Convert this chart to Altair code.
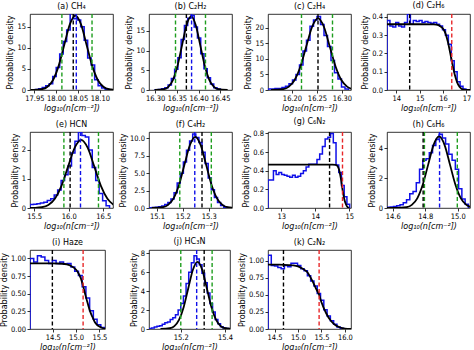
import altair as alt
import pandas as pd

# ---------------- data ----------------
TITLES = ["(a)  CH₄", "(b)  C₂H₂", "(c)  C₂H₄", "(d)  C₂H₆", "(e)  HCN", "(f)  C₄H₂",
          "(g)  C₆N₂", "(h)  C₆H₆", "(i)  Haze", "(j)  HC₃N", "(k)  C₂N₂"]
X_LABEL = "log₁₀(n[cm⁻²])"
Y_LABEL = "Probability density"
LINE_KINDS = ["bound", "best", "mean", "limit"]

# (a) CH4
A_START, A_BINW = 17.952, 0.008
A_HIST = [0.1, 0.3, 0.6, 1.0, 1.5, 3.2, 5.3, 8.5, 11.5, 14.2, 18.4, 16.9, 16.6, 15.0, 11.8, 7.6, 5.9, 2.4, 1.0, 0.5, 0.2]
A_CX = [17.9416, 17.9672, 17.98, 17.9928, 18.0056, 18.0184, 18.0312, 18.044, 18.0568, 18.0696, 18.0824, 18.0952, 18.108, 18.1208, 18.1464]
A_CY = [0.006, 0.195, 0.77, 2.38, 5.71, 10.67, 15.53, 17.6, 15.53, 10.67, 5.71, 2.38, 0.77, 0.195, 0.006]
A_LX = [18.013, 18.082, 18.039, 18.046]
A_LK = ["bound", "bound", "best", "mean"]
A_XT = [17.95, 18.00, 18.05, 18.10]
A_YT = [0, 5, 10, 15]

# (b) C2H2
B_START, B_BINW = 16.30, 0.0075
B_HIST = [0.05, 0.15, 0.3, 0.6, 1.3, 2.9, 5.3, 8.2, 12.8, 16.4, 18.2, 18.9, 16.0, 13.2, 9.2, 5.4, 3.1, 1.5, 0.6, 0.25, 0.08]
B_CX = [16.299, 16.32, 16.3305, 16.341, 16.3515, 16.362, 16.3725, 16.383, 16.3935, 16.404, 16.4145, 16.425, 16.4355, 16.446, 16.467]
B_CY = [0.0056, 0.2076, 0.821, 2.53, 6.07, 11.34, 16.50, 18.7, 16.50, 11.34, 6.07, 2.53, 0.821, 0.2076, 0.0056]
B_LX = [16.347, 16.416, 16.372, 16.384]
B_LK = ["bound", "bound", "best", "mean"]
B_XT = [16.30, 16.35, 16.40, 16.45]
B_YT = [0, 5, 10, 15]

# (c) C2H4
C_START, C_BINW = 16.152, 0.007
C_HIST = [0.3, 0.35, 0.5, 0.5, 0.8, 1.2, 2.0, 3.2, 5.0, 8.0, 12.5, 16.0, 20.5, 22.5, 23.6, 21.0, 17.5, 14.0, 9.5, 5.5, 3.5, 1.0, 0.3]
C_CX = [16.158, 16.1815, 16.1933, 16.205, 16.2168, 16.2285, 16.2403, 16.252, 16.2638, 16.2755, 16.2873, 16.299, 16.3108, 16.3225]
C_CY = [0.008, 0.255, 1.01, 3.11, 7.47, 13.95, 20.3, 23.0, 20.3, 13.95, 7.47, 3.11, 1.01, 0.255]
C_LX = [16.219, 16.281, 16.252]
C_LK = ["bound", "bound", "best"]
C_XT = [16.20, 16.25, 16.30]
C_YT = [0, 5, 10, 15, 20]

# (d) C2H6
D_START, D_BINW = 13.6, 0.125
D_HIST = [0.38, 0.35, 0.345, 0.37, 0.35, 0.345, 0.37, 0.415, 0.36, 0.38, 0.375, 0.38, 0.37, 0.375,
          0.37, 0.365, 0.37, 0.36, 0.35, 0.33, 0.30, 0.25, 0.16, 0.10, 0.045, 0.02, 0.005]
D_CX = [13.6, 15.0, 15.6, 15.8, 15.9, 16.0, 16.1, 16.2, 16.3, 16.4, 16.5, 16.6, 16.7, 16.8, 16.9, 17.0, 17.15]
D_CY = [0.36, 0.36, 0.359, 0.355, 0.347, 0.335, 0.31, 0.265, 0.205, 0.14, 0.083, 0.042, 0.018, 0.006, 0.002, 0.0005, 0.0]
D_LX = [14.57, 16.37]
D_LK = ["best", "limit"]
D_XT = [14, 15, 16, 17]
D_YT = [0.0, 0.1, 0.2, 0.3, 0.4]

# (e) HCN
E_START, E_BINW = 15.44, 0.05
E_HIST = [0.12, 0.13, 0.15, 0.17, 0.2, 0.26, 0.32, 0.45, 0.62, 0.95, 1.15, 1.45, 1.9, 2.3, 2.62, 2.5,
          2.45, 2.0, 1.4, 0.95, 0.5, 0.25, 0.08]
E_CX = [15.44, 15.515, 15.61, 15.705, 15.80, 15.895, 15.99, 16.085, 16.18, 16.275, 16.37, 16.465, 16.56, 16.655]
E_CY = [0.0015, 0.005, 0.026, 0.103, 0.318, 0.763, 1.425, 2.074, 2.35, 2.074, 1.425, 0.763, 0.318, 0.103]
E_LX = [15.93, 16.43, 16.02, 16.17]
E_LK = ["bound", "bound", "best", "mean"]
E_XT = [15.5, 16.0, 16.5]
E_YT = [0, 1, 2]

# (f) C4H2
F_START, F_BINW = 15.07, 0.012
F_HIST = [0.05, 0.08, 0.12, 0.18, 0.3, 0.5, 0.8, 1.3, 2.2, 3.6, 5.0, 6.6, 8.3, 9.6, 10.6, 10.1, 9.4,
          8.0, 6.4, 4.3, 2.6, 1.5, 0.8, 0.35, 0.12, 0.04]
F_CX = [15.08, 15.122, 15.143, 15.164, 15.185, 15.206, 15.227, 15.248, 15.269, 15.29, 15.311, 15.332, 15.353, 15.374, 15.416]
F_CY = [0.003, 0.113, 0.448, 1.38, 3.31, 6.19, 9.0, 10.2, 9.0, 6.19, 3.31, 1.38, 0.448, 0.113, 0.003]
F_LX = [15.188, 15.31, 15.274, 15.246]
F_LK = ["bound", "bound", "best", "mean"]
F_XT = [15.1, 15.2, 15.3]
F_YT = [0.0, 2.5, 5.0, 7.5, 10.0]

# (g) C6N2
G_START, G_BINW = 12.61, 0.08
G_HIST = [0.30, 0.30, 0.40, 0.36, 0.38, 0.36, 0.35, 0.34, 0.33, 0.35, 0.33, 0.34, 0.37, 0.40, 0.44,
          0.47, 0.47, 0.47, 0.52, 0.58, 0.66, 0.74, 0.76, 0.80, 0.70, 0.46, 0.38, 0.24, 0.12, 0.04]
G_CX = [12.61, 14.5, 14.6, 14.65, 14.7, 14.75, 14.8, 14.85, 14.9, 14.95, 15.0]
G_CY = [0.465, 0.465, 0.462, 0.45, 0.41, 0.32, 0.2, 0.1, 0.04, 0.01, 0.0]
G_LX = [14.42, 14.8]
G_LK = ["best", "limit"]
G_XT = [13, 14, 15]
G_YT = [0.0, 0.2, 0.4, 0.6, 0.8]

# (h) C6H6
H_START, H_BINW = 14.565, 0.02
H_HIST = [0.05, 0.07, 0.10, 0.15, 0.22, 0.35, 0.55, 0.95, 1.10, 1.70, 2.60, 3.20, 3.30, 3.70, 4.20,
          4.60, 4.95, 4.70, 4.30, 3.60, 3.20, 2.60, 1.30, 0.60, 0.25]
H_CX = [14.565, 14.617, 14.684, 14.7175, 14.751, 14.7845, 14.818, 14.8515, 14.885, 14.9185, 14.952, 14.9855, 15.019, 15.0525, 15.086]
H_CY = [0.0003, 0.0016, 0.053, 0.211, 0.65, 1.56, 2.91, 4.24, 4.8, 4.24, 2.91, 1.56, 0.65, 0.211, 0.053]
H_LX = [14.795, 14.997, 14.787, 14.888]
H_LK = ["bound", "bound", "best", "mean"]
H_XT = [14.6, 14.8, 15.0]
H_YT = [0, 2, 4]

# (i) Haze
I_START, I_BINW = 14.01, 0.08
I_HIST = [1.00, 0.95, 1.04, 1.02, 0.97, 0.93, 0.97, 0.93, 0.95, 0.92, 0.93, 0.88, 0.82, 0.76, 0.60,
          0.44, 0.26, 0.14, 0.06, 0.02]
I_CX = [14.01, 14.5, 14.7, 14.8, 14.9, 15.0, 15.05, 15.1, 15.15, 15.2, 15.25, 15.3, 15.35, 15.4, 15.45, 15.5, 15.55, 15.62]
I_CY = [0.93, 0.93, 0.925, 0.915, 0.89, 0.84, 0.79, 0.72, 0.61, 0.48, 0.36, 0.25, 0.17, 0.10, 0.06, 0.035, 0.018, 0.006]
I_LX = [14.49, 15.15]
I_LK = ["best", "limit"]
I_XT = [14.5, 15.0, 15.5]
I_YT = [0.0, 0.25, 0.5, 0.75, 1.0]

# (j) HC3N
J_START, J_BINW = 15.056, 0.012
J_HIST = [0.05, 0.10, 0.20, 0.28, 0.35, 0.50, 0.65, 0.75, 1.00, 1.20, 1.50, 2.00, 2.70, 3.50, 4.80,
          6.00, 7.00, 7.75, 7.40, 6.80, 5.90, 4.90, 3.80, 2.70, 1.80, 1.00, 0.55, 0.25, 0.10, 0.04]
J_CX = [15.108, 15.15, 15.171, 15.192, 15.213, 15.234, 15.255, 15.276, 15.297, 15.318, 15.339, 15.36, 15.381, 15.402, 15.444]
J_CY = [0.002, 0.079, 0.312, 0.961, 2.305, 4.306, 6.266, 7.1, 6.266, 4.306, 2.305, 0.961, 0.312, 0.079, 0.002]
J_LX = [15.2, 15.342, 15.306, 15.272]
J_LK = ["bound", "bound", "best", "mean"]
J_XT = [15.2, 15.4]
J_YT = [0, 2, 4, 6, 8]

# (k) C2N2
K_START, K_BINW = 14.36, 0.07
K_HIST = [1.08, 0.93, 0.92, 0.90, 0.88, 0.93, 0.91, 0.96, 0.96, 0.93, 0.88, 0.85, 0.78, 0.70, 0.63,
          0.52, 0.42, 0.28, 0.19, 0.12, 0.07, 0.03, 0.01]
K_CX = [14.36, 14.6, 14.8, 14.9, 15.0, 15.1, 15.2, 15.3, 15.4, 15.45, 15.5, 15.6, 15.7, 15.8, 15.9, 16.0, 16.13]
K_CY = [0.94, 0.94, 0.935, 0.93, 0.915, 0.88, 0.83, 0.71, 0.57, 0.5, 0.39, 0.23, 0.12, 0.055, 0.022, 0.007, 0.001]
K_LX = [14.69, 15.45]
K_LK = ["best", "limit"]
K_XT = [14.5, 15.0, 15.5, 16.0]
K_YT = [0.0, 0.25, 0.5, 0.75, 1.0]

# ---------------- styles ----------------
BLUE = "#1010e8"
LINE_COLORS = ["#1f9e1f", "#000000", "#1010e8", "#e8282a"]
LABEL_FONT = "DejaVu Sans Condensed, DejaVu Sans"
TITLE_FONT = "DejaVu Sans"


def panel(title, start, binw, hist, cx, cy, lx, lk, xdom, ydom, xt, yt, xf, yf, w, h):
    n = len(hist)
    xs = [start] + [start + i * binw for i in range(n)] + [start + n * binw]
    ys = [0.0] + list(hist) + [0.0]
    hdf = pd.DataFrame({"x": xs, "y": ys, "o": list(range(len(xs)))})
    cdf = pd.DataFrame({"x": cx, "y": cy})
    ldf = pd.DataFrame({"x": lx, "k": lk})
    xsc = alt.Scale(domain=xdom, nice=False, zero=False)
    ysc = alt.Scale(domain=ydom, nice=False, zero=False)
    xax = alt.Axis(values=xt, format=xf, title=X_LABEL, titleFontStyle="italic",
                   labelOverlap=False, labelFlush=False)
    yax = alt.Axis(values=yt, format=yf, title=Y_LABEL, labelOverlap=False, labelFlush=False)
    hl = alt.Chart(hdf).mark_line(interpolate="step-after", color=BLUE, strokeWidth=1.5, clip=True).encode(
        x=alt.X("x:Q", scale=xsc, axis=xax),
        y=alt.Y("y:Q", scale=ysc, axis=yax),
        order="o:Q")
    cl = alt.Chart(cdf).mark_line(interpolate="monotone", color="black", strokeWidth=1.8, clip=True).encode(
        x=alt.X("x:Q", scale=xsc, axis=xax),
        y=alt.Y("y:Q", scale=ysc, axis=yax))
    rl = alt.Chart(ldf).mark_rule(strokeDash=[4, 2.5], strokeWidth=1.4, clip=True).encode(
        x=alt.X("x:Q", scale=xsc, axis=xax),
        color=alt.Color("k:N", scale=alt.Scale(domain=LINE_KINDS, range=LINE_COLORS), legend=None))
    return alt.layer(hl, cl, rl).properties(
        width=w, height=h,
        title=alt.TitleParams(title, fontSize=8, fontWeight="normal", font=TITLE_FONT, offset=3, color="black"))


panels = [
    panel(TITLES[0], A_START, A_BINW, A_HIST, A_CX, A_CY, A_LX, A_LK, [17.94, 18.13], [0, 18.0], A_XT, A_YT, ".2f", "d", 83, 76),
    panel(TITLES[1], B_START, B_BINW, B_HIST, B_CX, B_CY, B_LX, B_LK, [16.286, 16.477], [0, 19.3], B_XT, B_YT, ".2f", "d", 83, 76),
    panel(TITLES[2], C_START, C_BINW, C_HIST, C_CX, C_CY, C_LX, C_LK, [16.152, 16.318], [0, 24.4], C_XT, C_YT, ".2f", "d", 83, 76),
    panel(TITLES[3], D_START, D_BINW, D_HIST, D_CX, D_CY, D_LX, D_LK, [13.6, 17.15], [0, 0.416], D_XT, D_YT, "d", ".1f", 83, 76),
    panel(TITLES[4], E_START, E_BINW, E_HIST, E_CX, E_CY, E_LX, E_LK, [15.44, 16.64], [0, 2.62], E_XT, E_YT, ".1f", "d", 83, 76),
    panel(TITLES[5], F_START, F_BINW, F_HIST, F_CX, F_CY, F_LX, F_LK, [15.069, 15.39], [0, 10.9], F_XT, F_YT, ".1f", ".1f", 83, 76),
    panel(TITLES[6], G_START, G_BINW, G_HIST, G_CX, G_CY, G_LX, G_LK, [12.61, 15.05], [0, 0.815], G_XT, G_YT, "d", ".1f", 83, 76),
    panel(TITLES[7], H_START, H_BINW, H_HIST, H_CX, H_CY, H_LX, H_LK, [14.565, 15.075], [0, 5.1], H_XT, H_YT, ".1f", "d", 83, 76),
    panel(TITLES[8], I_START, I_BINW, I_HIST, I_CX, I_CY, I_LX, I_LK, [14.01, 15.62], [0, 1.12], I_XT, I_YT, ".1f", ".2f", 75, 79),
    panel(TITLES[9], J_START, J_BINW, J_HIST, J_CX, J_CY, J_LX, J_LK, [15.056, 15.423], [0, 8.35], J_XT, J_YT, ".1f", "d", 81, 79),
    panel(TITLES[10], K_START, K_BINW, K_HIST, K_CX, K_CY, K_LX, K_LK, [14.36, 16.13], [0, 1.155], K_XT, K_YT, ".1f", ".2f", 83, 79),
]

chart = alt.concat(
    *panels, columns=4, spacing={"row": 42, "column": 36}, bounds="flush", align="each"
).properties(
    padding={"left": 0, "top": 1, "right": 0, "bottom": 0},
    background="white",
).configure_view(
    stroke="black", strokeWidth=0.8
).configure_axis(
    labelFont=LABEL_FONT, labelFontSize=7.5, labelColor="black", labelPadding=1.5,
    titleFont=TITLE_FONT, titleFontSize=8, titleFontWeight="normal", titleColor="black", titlePadding=2,
    tickColor="black", tickSize=3, tickWidth=0.8, grid=False, domain=False,
)

chart.save("out.html", embed_options={"renderer": "svg", "actions": False})
